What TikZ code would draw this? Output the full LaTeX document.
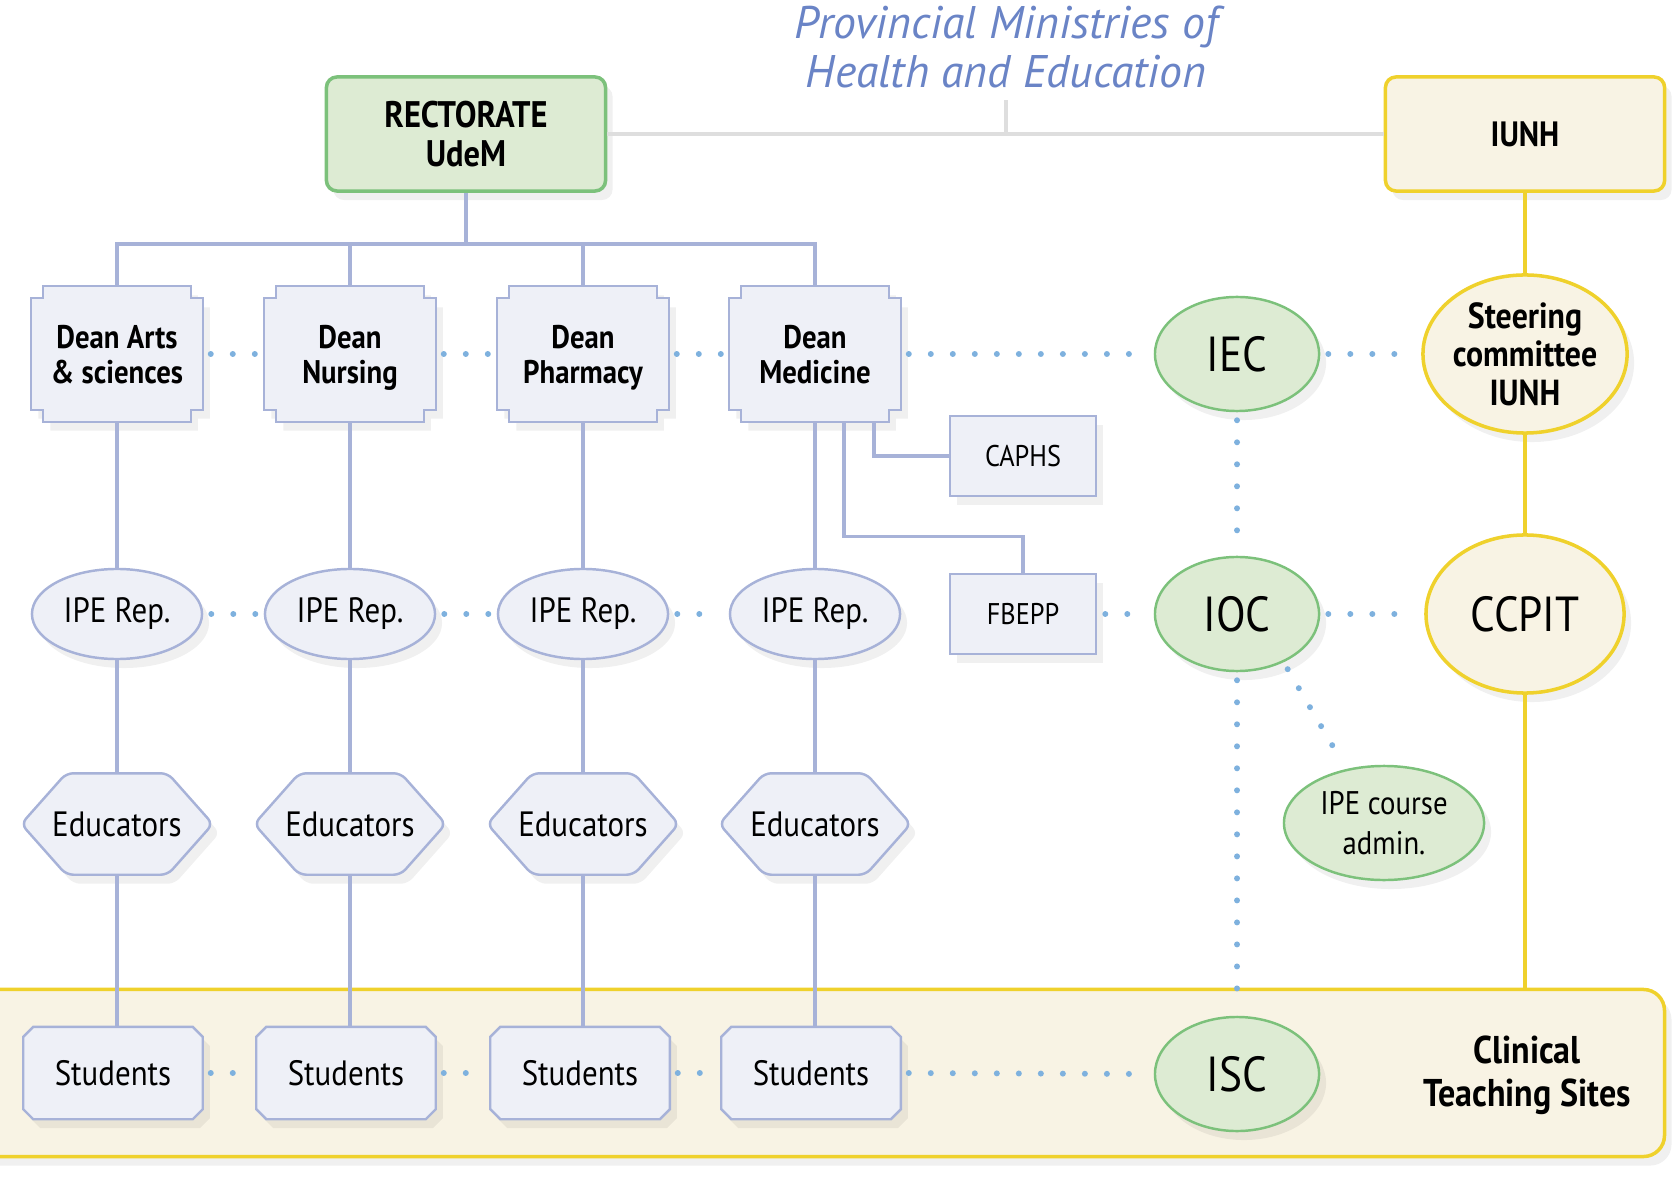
\documentclass[tikz,border=0pt]{standalone}
\usepackage{fontspec}
\setmainfont{PT Sans}[FakeStretch=0.88]
\newfontfamily\titlefont{PT Sans}
\usepackage{tikz}
\usetikzlibrary{positioning,calc,shapes.geometric,backgrounds}
\definecolor{OrgLine}{HTML}{A7B2D8}
\definecolor{OrgFill}{HTML}{EEF0F7}
\definecolor{OrgDot}{HTML}{7EB1DE}
\definecolor{OrgGreen}{HTML}{DDEBD3}
\definecolor{OrgGreenLine}{HTML}{7CC17B}
\definecolor{OrgYellow}{HTML}{EFD12C}
\definecolor{OrgCream}{HTML}{F8F3E4}
\definecolor{OrgGrey}{HTML}{DEDEDE}
\definecolor{OrgTitle}{HTML}{6A84C6}
% outlines drawn round a named node: node, corner size
\newcommand{\notchpath}[2]{($(#1.north west)+(0,#2)$) -- ++(#2,0) -- ++(0,-#2) -- ($(#1.north east)+(-#2,0)$) -- ++(0,#2) -- ++(#2,0) -- ($(#1.south east)+(0,-#2)$) -- ++(-#2,0) -- ++(0,#2) -- ($(#1.south west)+(#2,0)$) -- ++(0,-#2) -- ++(-#2,0) -- cycle}
\newcommand{\hexpath}[2]{(#1.west) -- ($(#1.north west)+(#2,0)$) -- ($(#1.north east)+(-#2,0)$) -- (#1.east) -- ($(#1.south east)+(-#2,0)$) -- ($(#1.south west)+(#2,0)$) -- cycle}
\newcommand{\cutpath}[2]{($(#1.north west)+(0,#2)$) -- ($(#1.north west)+(#2,0)$) -- ($(#1.north east)+(-#2,0)$) -- ($(#1.north east)+(0,#2)$) -- ($(#1.south east)+(0,-#2)$) -- ($(#1.south east)+(-#2,0)$) -- ($(#1.south west)+(#2,0)$) -- ($(#1.south west)+(0,-#2)$) -- cycle}

\begin{document}
\begin{tikzpicture}[x=0.01cm,y=-0.01cm,
  solidlink/.style={OrgLine,line width=0.9pt},
  dotlink/.style={OrgDot,line width=1.7pt,line cap=round,dash pattern=on 0pt off 0.22cm,shorten <=0.08cm,shorten >=0.08cm},
  yellowlink/.style={OrgYellow,line width=1pt},
  soft/.style={preaction={fill=black,opacity=.06,transform canvas={shift={(0.07cm,-0.09cm)}}}},
  boxline/.style={draw=OrgLine,fill=OrgFill,line width=0.7pt,soft},
  slot/.style={inner sep=0pt,align=center},
  dean/.style={slot,minimum width=1.70cm,minimum height=1.34cm,font=\bfseries\fontsize{9.3}{10}\selectfont},
  educ/.style={slot,minimum width=1.90cm,minimum height=1.00cm,font=\fontsize{10}{12}\selectfont},
  stud/.style={slot,minimum width=1.78cm,minimum height=0.91cm,font=\fontsize{10}{12}\selectfont},
  ipe/.style={ellipse,boxline,minimum width=1.70cm,minimum height=0.90cm,inner sep=0pt,font=\fontsize{10}{12}\selectfont},
  sidebox/.style={rectangle,boxline,minimum width=1.46cm,minimum height=0.80cm,inner sep=0pt,font=\fontsize{8.5}{10}\selectfont},
  council/.style={ellipse,draw=OrgGreenLine,fill=OrgGreen,line width=0.7pt,soft,minimum width=1.64cm,minimum height=1.14cm,inner sep=0pt,font=\fontsize{14}{16}\selectfont},
  ringpanel/.style={ellipse,draw=OrgYellow,fill=OrgCream,line width=1pt,soft,minimum width=1.98cm,minimum height=1.58cm,inner sep=0pt,align=center},
  headbox/.style={rectangle,rounded corners=3pt,line width=1pt,soft,minimum width=2.79cm,minimum height=1.14cm,inner sep=0pt,align=center,font=\bfseries\fontsize{10.5}{11}\selectfont}]
  \useasboundingbox (0,0) rectangle (1677,1195);

  % top row
  \node[headbox,draw=OrgGreenLine,fill=OrgGreen] (rector) at (466,134) {RECTORATE\\UdeM};
  \node[headbox,draw=OrgYellow,fill=OrgCream,font=\bfseries\fontsize{10}{11}\selectfont] (iunh) at (1525,134) {IUNH};
  \node[align=center,text=OrgTitle,font=\titlefont\itshape\fontsize{13}{13.7}\selectfont] (minis) at (1006,47) {Provincial Ministries of\\Health and Education};
  \draw[OrgGrey,line width=1.2pt] (rector.east) -- (iunh.west);
  \draw[OrgGrey,line width=1.2pt] (minis.south) -- (minis.south |- rector.east);

  % deans
  \node[dean] (dArts) at (117,354) {Dean Arts\\\smash{\& sciences}};
  \node[dean] (dNurs) at (350,354) {Dean\\\smash{Nursing}};
  \node[dean] (dPharm) at (583,354) {Dean\\\smash{Pharmacy}};
  \node[dean] (dMed) at (815,354) {Dean\\\smash{Medicine}};
  \coordinate (bar) at (466,244);
  \draw[solidlink] (rector.south) -- (bar);
  \foreach \n in {dArts,dNurs,dPharm,dMed} \draw[solidlink] (bar) -| (\n.north);

  % IPE representatives, educators, students
  \node[ipe] (r1) at (117,614) {IPE Rep.};
  \node[ipe] (r2) at (350,614) {IPE Rep.};
  \node[ipe] (r3) at (583,614) {IPE Rep.};
  \node[ipe] (r4) at (815,614) {IPE Rep.};
  \node[educ] (e1) at (117,824) {Educators};
  \node[educ] (e2) at (350,824) {Educators};
  \node[educ] (e3) at (583,824) {Educators};
  \node[educ] (e4) at (815,824) {Educators};
  \node[stud] (s1) at (113,1073) {Students};
  \node[stud] (s2) at (346,1073) {Students};
  \node[stud] (s3) at (580,1073) {Students};
  \node[stud] (s4) at (811,1073) {Students};
  \foreach \d/\c in {dArts/1,dNurs/2,dPharm/3,dMed/4}{
    \draw[solidlink] (\d.south) -- (r\c.north);
    \draw[solidlink] (r\c.south) -- (e\c.north);
    \draw[solidlink] (e\c.south) -- (e\c.south |- s\c.north);
  }

  % committees
  \node[council] (iec) at (1237,354) {IEC};
  \node[council] (ioc) at (1237,614) {IOC};
  \node[council] (isc) at (1237,1074) {ISC};
  \node[council,minimum width=2.00cm,align=center,font=\fontsize{9.3}{11.2}\selectfont] (admin) at (1384,823) {IPE course\\admin.};
  \node[ringpanel,font=\bfseries\fontsize{10.3}{11}\selectfont] (steer) at (1525,354) {Steering\\committee\\IUNH};
  \node[ringpanel,font=\fontsize{14}{16}\selectfont] (ccpit) at (1525,614) {CCPIT};
  \node[sidebox] (caphs) at (1023,456) {CAPHS};
  \node[sidebox] (fbepp) at (1023,614) {FBEPP};
  \node[align=center,font=\bfseries\fontsize{11}{12.2}\selectfont] (sites) at (1527,1075) {Clinical\\Teaching Sites};

  \begin{scope}[on background layer]
    \node[draw=OrgYellow,fill=OrgCream,rounded corners=6pt,line width=1pt,soft,minimum width=16.94cm,minimum height=1.67cm,inner sep=0pt] (band) at (817,1073) {};
    \foreach \n in {dArts,dNurs,dPharm,dMed} \draw[boxline] \notchpath{\n}{12};
    \foreach \n in {e1,e2,e3,e4} \draw[boxline,rounded corners=2pt] \hexpath{\n}{45};
    \foreach \n in {s1,s2,s3,s4} \draw[boxline] \cutpath{\n}{10};
  \end{scope}

  % medicine branches
  \draw[solidlink] ($(dMed.south)+(59,0)$) |- (caphs.west);
  \draw[solidlink] ($(dMed.south)+(29,0)$) -- ++(0,115) -| (fbepp.north);

  % IUNH line
  \draw[yellowlink] (iunh.south) -- (steer.north);
  \draw[yellowlink] (steer.south) -- (ccpit.north);
  \draw[yellowlink] (ccpit.south) -- (ccpit.south |- band.north);

  % dotted links
  \foreach \a/\b in {dArts/dNurs,dNurs/dPharm,dPharm/dMed,dMed/iec,iec/steer,r1/r2,r2/r3,r3/r4,fbepp/ioc,ioc/ccpit,s1/s2,s2/s3,s3/s4,s4/isc}
    \draw[dotlink] (\a.east) -- (\b.west);
  \draw[dotlink] (iec.south) -- (ioc.north);
  \draw[dotlink] (ioc.south) -- (isc.north);
  \draw[dotlink] (ioc.-46) -- (admin.125);
\end{tikzpicture}
\end{document}
